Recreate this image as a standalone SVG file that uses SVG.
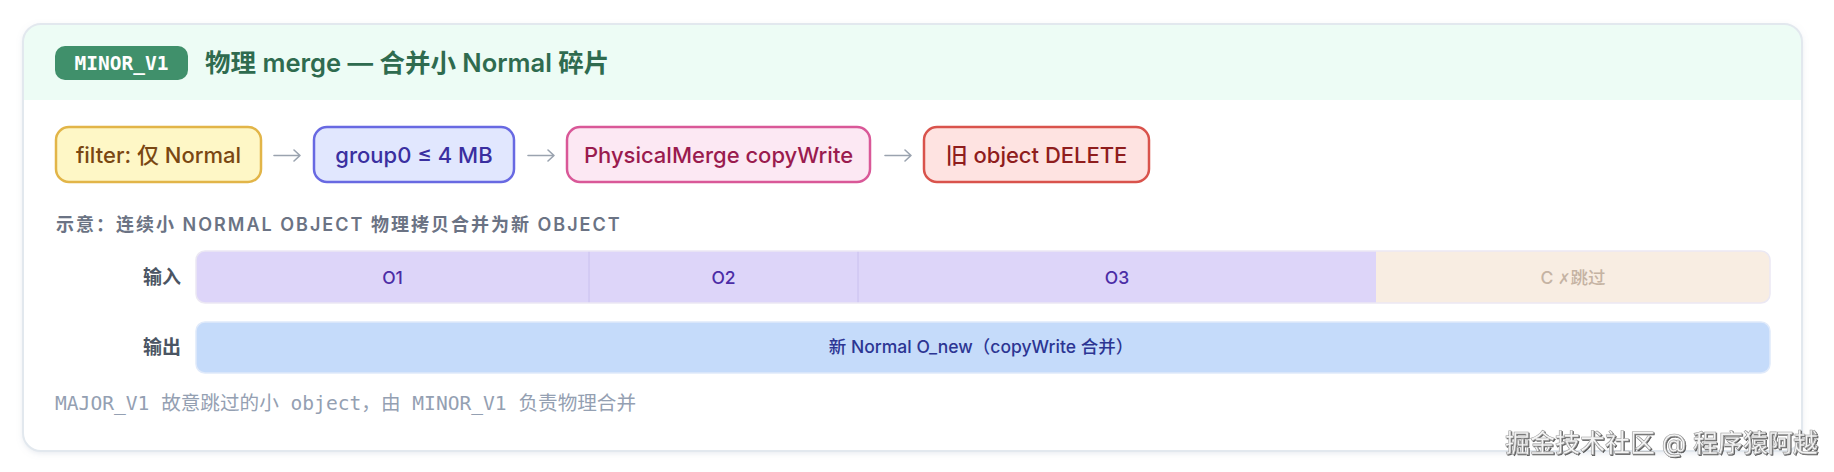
<svg xmlns="http://www.w3.org/2000/svg" width="1834" height="472" viewBox="0 0 1834 472">
  <style>
    .sans { font-family: Inter, "Liberation Sans", "Noto Sans CJK SC", sans-serif; }
    .mono { font-family: "DejaVu Sans Mono", "Liberation Mono", "Noto Sans CJK SC", monospace; }
    .step { stroke-width: 2.5; }
    .steptxt { font-size: 22px; font-weight: 500; text-anchor: middle; }
    .seg { font-size: 17.5px; font-weight: 500; text-anchor: middle; }
    .rowlbl { font-size: 19px; font-weight: 600; fill: #4b5563; text-anchor: end; }
    .conn { fill: none; stroke: #9aa3af; stroke-width: 1.6; stroke-linecap: round; stroke-linejoin: round; }
  </style>
  <defs>
    <clipPath id="cardClip">
      <rect x="23" y="24" width="1779" height="427" rx="18"/>
    </clipPath>
    <filter id="cardShadow" x="-5%" y="-10%" width="110%" height="125%">
      <feDropShadow dx="0" dy="2" stdDeviation="3" flood-color="#94a3b8" flood-opacity="0.25"/>
    </filter>
    <filter id="wm" x="-5%" y="-20%" width="110%" height="150%">
      <feDropShadow dx="1" dy="1" stdDeviation="0.6" flood-color="#333" flood-opacity="0.8"/>
    </filter>
  </defs>

  <rect width="1834" height="472" fill="#ffffff"/>

  <g id="card">
    <rect x="23" y="24" width="1779" height="427" rx="18" fill="#ffffff" filter="url(#cardShadow)"/>
    <rect x="23" y="24" width="1779" height="76" fill="#edfcf5" clip-path="url(#cardClip)"/>
    <rect x="23" y="24" width="1779" height="427" rx="18" fill="none" stroke="#e2e8ee" stroke-width="2"/>
  </g>

  <g id="header">
    <rect x="55" y="46" width="133" height="34" rx="10" fill="#40906b"/>
    <text x="121.5" y="70" class="mono" font-size="19.5" font-weight="700" fill="#ffffff" text-anchor="middle">MINOR_V1</text>
    <text x="205" y="72" class="sans" font-size="25.5" font-weight="600" fill="#2f6b4f">物理 merge — 合并小 Normal 碎片</text>
  </g>

  <g id="node-filter">
    <rect class="step" x="56" y="127" width="205" height="55" rx="13" fill="#fef7c6" stroke="#e2b548"/>
    <text class="sans steptxt" x="158.5" y="162.5" fill="#7a4712">filter: 仅 Normal</text>
  </g>
  <g id="node-group0">
    <rect class="step" x="314" y="127" width="200" height="55" rx="13" fill="#e1e7fe" stroke="#6869e2"/>
    <text class="sans steptxt" x="414" y="162.5" fill="#3a2fa0">group0 ≤ 4 MB</text>
  </g>
  <g id="node-merge">
    <rect class="step" x="567" y="127" width="303" height="55" rx="13" fill="#fce8f3" stroke="#d95898"/>
    <text class="sans steptxt" x="718.5" y="162.5" fill="#9a1b4e">PhysicalMerge copyWrite</text>
  </g>
  <g id="node-delete">
    <rect class="step" x="924" y="127" width="225" height="55" rx="13" fill="#fee3e1" stroke="#d9534c"/>
    <text class="sans steptxt" x="1036.5" y="162.5" fill="#8f1d1d">旧 object DELETE</text>
  </g>

  <g id="connectors">
    <path class="conn" d="M274 155.5 H300 M294 150 L300 155.5 L294 161"/>
    <path class="conn" d="M528 155.5 H554 M548 150 L554 155.5 L548 161"/>
    <path class="conn" d="M885 155.5 H911 M905 150 L911 155.5 L905 161"/>
  </g>

  <text id="caption" x="56" y="231" class="sans" font-size="18" font-weight="600" fill="#6b7384" letter-spacing="2">示意：连续小 NORMAL OBJECT 物理拷贝合并为新 OBJECT</text>

  <g id="row-input">
    <text class="sans rowlbl" x="181" y="284">输入</text>
    <clipPath id="inClip"><rect x="196" y="251" width="1574" height="52" rx="9"/></clipPath>
    <g clip-path="url(#inClip)">
      <rect x="196" y="251" width="1180" height="52" fill="#ddd5f9"/>
      <rect x="1376" y="251" width="394" height="52" fill="#f8ede2"/>
      <line x1="589" y1="251" x2="589" y2="303" stroke="#c9c0ee" stroke-width="1"/>
      <line x1="858" y1="251" x2="858" y2="303" stroke="#c9c0ee" stroke-width="1"/>
    </g>
    <rect x="196" y="251" width="1574" height="52" rx="9" fill="none" stroke="#ebe8f3" stroke-width="1.5"/>
    <text class="sans seg" x="392.5" y="284" fill="#4b2ca6">O1</text>
    <text class="sans seg" x="723.5" y="284" fill="#4b2ca6">O2</text>
    <text class="sans seg" x="1117" y="284" fill="#4b2ca6">O3</text>
    <text class="sans seg" x="1573" y="284" fill="#c5b3a3">C <tspan font-family="'DejaVu Sans', sans-serif" font-size="15">✗</tspan>跳过</text>
  </g>

  <g id="row-output">
    <text class="sans rowlbl" x="181" y="354">输出</text>
    <rect x="196" y="322" width="1574" height="51" rx="9" fill="#c5dbfa" stroke="#e0eafa" stroke-width="1.5"/>
    <text class="sans seg" x="981" y="353" fill="#2c3593">新 Normal O_new（copyWrite 合并）</text>
  </g>

  <text id="note" x="55" y="410" class="mono" font-size="19.6" fill="#94a0b2">MAJOR_V1 故意跳过的小 object，由 MINOR_V1 负责物理合并</text>

  <text id="watermark" x="1818" y="452" class="sans" font-size="25" font-weight="500" fill="#f4f4f4" stroke="#9a9a9a" stroke-width="0.6" text-anchor="end" filter="url(#wm)">掘金技术社区 @ 程序猿阿越</text>
</svg>
